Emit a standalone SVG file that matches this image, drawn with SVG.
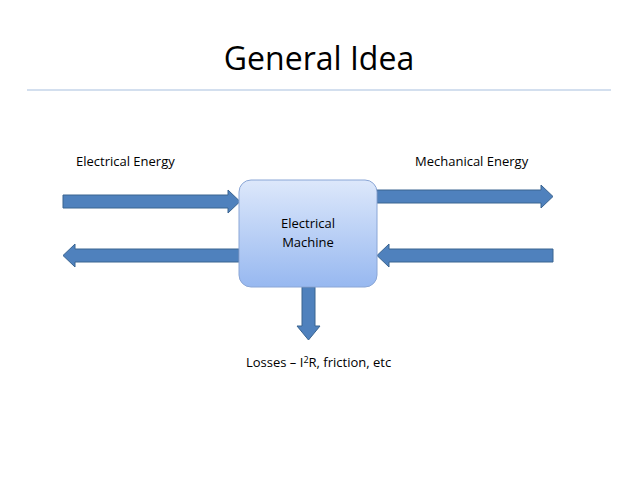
<svg xmlns="http://www.w3.org/2000/svg" width="638" height="478" viewBox="0 0 638 478">
<style>
.t{font-family:"Open Sans","Liberation Sans",sans-serif;fill:#000}
.a{fill:#4f81bd;stroke:#3a6490;stroke-width:1}
</style>
<defs>
<linearGradient id="g" x1="0" y1="0" x2="0" y2="1">
<stop offset="0" stop-color="#dde8fb"/><stop offset="1" stop-color="#97b8f0"/>
</linearGradient>
</defs>
<rect width="638" height="478" fill="#fff"/>
<text class="t" x="319" y="70" font-size="32" text-anchor="middle">General Idea</text>
<line x1="27" y1="90" x2="611" y2="90" stroke="#a7bfde" stroke-width="1"/>
<text class="t" x="76" y="166" font-size="13">Electrical Energy</text>
<text class="t" x="415" y="166" font-size="13">Mechanical Energy</text>
<g id="connectors">
<polygon class="a" points="63,195 228,195 228,190 240,201.5 228,213 228,208 63,208"/>
<polygon class="a" points="239,249 75,249 75,244 63,255.5 75,267 75,262 239,262"/>
<polygon class="a" points="377,190 541,190 541,185 553,196.5 541,208 541,203 377,203"/>
<polygon class="a" points="553,249 389,249 389,244 377,255.5 389,267 389,262 553,262"/>
<polygon class="a" points="302,287 315,287 315,326 320,326 308.5,340 297,326 302,326"/>
</g>
<g id="machine">
<rect x="239" y="180" width="138" height="107" rx="12" fill="url(#g)" stroke="#8aa6d6" stroke-width="1"/>
<text class="t" x="308" y="228" font-size="13" text-anchor="middle">Electrical</text>
<text class="t" x="308" y="247" font-size="13" text-anchor="middle">Machine</text>
</g>
<text class="t" x="246" y="367" font-size="13">Losses – I<tspan font-size="9" dy="-4">2</tspan><tspan dy="4">R, friction, etc</tspan></text>
</svg>
